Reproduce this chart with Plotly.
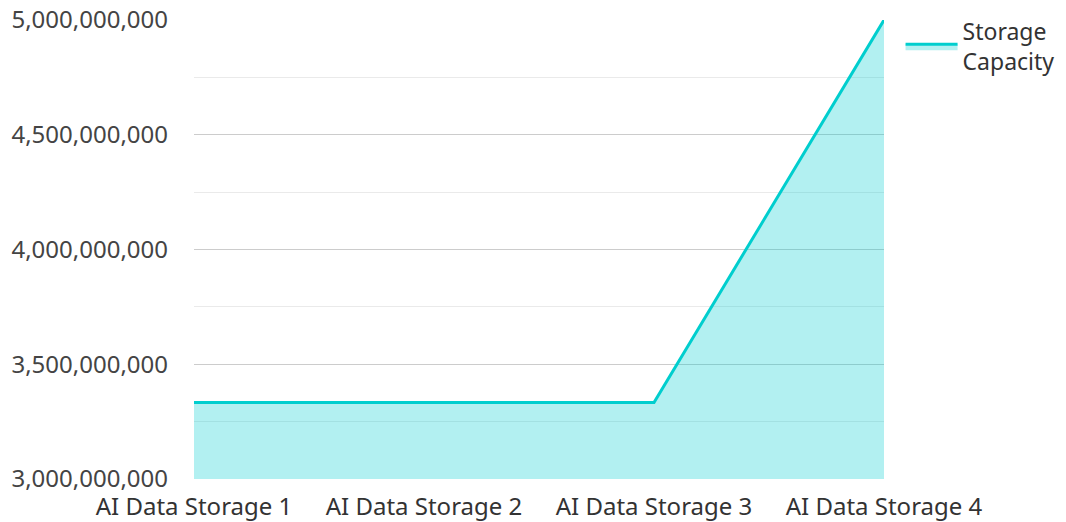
import plotly.graph_objects as go

categories = ["AI Data Storage 1", "AI Data Storage 2", "AI Data Storage 3", "AI Data Storage 4"]
capacity = [3333333333, 3333333333, 3333333333, 5000000000]
series_name = "Storage<br>Capacity"

fig = go.Figure()
fig.add_trace(go.Scatter(
    x=categories, y=capacity, name=series_name, mode="lines",
    line=dict(color="#00CECE", width=3),
    fill="tozeroy", fillcolor="rgba(0,206,209,0.3)",
))

fig.update_layout(
    width=1066, height=522,
    margin=dict(l=186, r=190, t=12, b=51, autoexpand=False),
    paper_bgcolor="white", plot_bgcolor="white",
    font=dict(family="Noto Sans", size=24, color="#444"),
    showlegend=True,
    legend=dict(x=1.024, y=1.022, xanchor="left", yanchor="top",
                font=dict(size=23, color="#333"), itemwidth=52),
)
fig.update_xaxes(type="category", range=[0, 3], showgrid=False, showline=False,
                 ticks="", tickfont=dict(size=24, color="#333"),
                 automargin=False, ticklabelstandoff=11, ticklabeloverflow="allow")
fig.update_yaxes(range=[3e9, 5e9], dtick=5e8, tickformat=",d",
                 gridcolor="#cccccc", gridwidth=1, zeroline=False,
                 tickfont=dict(size=24, color="#444"), automargin=False,
                 ticklabelstandoff=25, ticklabeloverflow="allow",
                 minor=dict(dtick=2.5e8, showgrid=True, gridcolor="#eaeaea", gridwidth=1))

fig.write_html("out.html")
